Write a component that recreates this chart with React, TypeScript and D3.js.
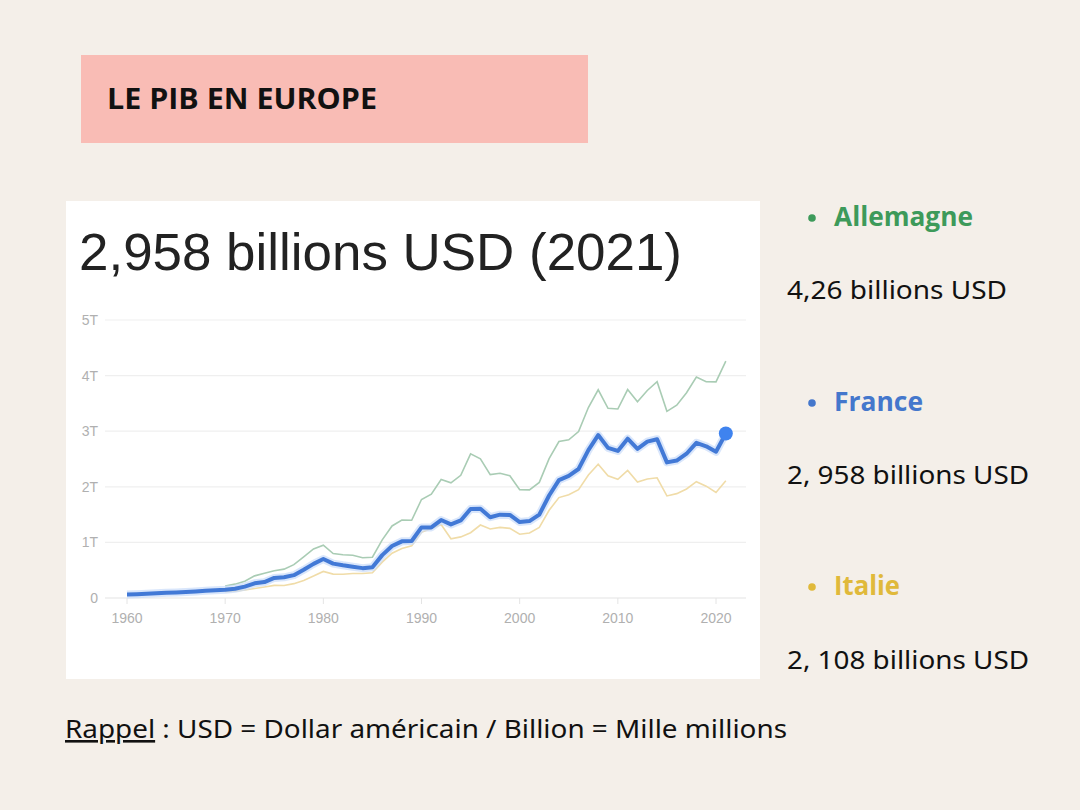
import React from "react";
import * as d3 from "d3";

const franceYears = d3.range(1960, 2022);
const franceValues = [
  0.062, 0.067, 0.075, 0.084, 0.094, 0.101, 0.110, 0.119, 0.130, 0.141,
  0.148, 0.166, 0.204, 0.264, 0.286, 0.361, 0.372, 0.411, 0.507, 0.614,
  0.701, 0.618, 0.588, 0.563, 0.537, 0.553, 0.771, 0.934, 1.019, 1.026,
  1.269, 1.270, 1.402, 1.323, 1.395, 1.601, 1.606, 1.453, 1.499, 1.494,
  1.366, 1.383, 1.500, 1.844, 2.120, 2.197, 2.320, 2.660, 2.930, 2.700,
  2.645, 2.865, 2.683, 2.812, 2.856, 2.439, 2.472, 2.595, 2.790, 2.729,
  2.630, 2.958,
];
const otherYears = d3.range(1970, 2022);
const germanyValues = [
  0.216, 0.249, 0.300, 0.398, 0.446, 0.490, 0.519, 0.600, 0.741, 0.882,
  0.950, 0.800, 0.777, 0.770, 0.725, 0.733, 1.046, 1.296, 1.402, 1.398,
  1.772, 1.869, 2.131, 2.072, 2.206, 2.592, 2.504, 2.219, 2.243, 2.200,
  1.948, 1.945, 2.079, 2.505, 2.815, 2.846, 2.993, 3.425, 3.745, 3.412,
  3.399, 3.749, 3.528, 3.733, 3.890, 3.357, 3.469, 3.691, 3.975, 3.889,
  3.887, 4.260,
];
const italyValues = [
  0.113, 0.124, 0.144, 0.170, 0.198, 0.227, 0.224, 0.258, 0.315, 0.394,
  0.478, 0.430, 0.428, 0.441, 0.440, 0.455, 0.645, 0.806, 0.891, 0.938,
  1.181, 1.248, 1.323, 1.065, 1.099, 1.174, 1.313, 1.241, 1.270, 1.253,
  1.146, 1.168, 1.270, 1.577, 1.806, 1.858, 1.949, 2.213, 2.408, 2.199,
  2.136, 2.294, 2.087, 2.141, 2.162, 1.836, 1.877, 1.961, 2.092, 2.011,
  1.897, 2.108,
];
const yTicks = [0, 1, 2, 3, 4, 5];
const yTickLabels = ["0", "1T", "2T", "3T", "4T", "5T"];
const xTicks = [1960, 1970, 1980, 1990, 2000, 2010, 2020];

const legendNames = ["Allemagne", "France", "Italie"];
const legendValues = ["4,26 billions USD", "2, 958 billions USD", "2, 108 billions USD"];
const legendColors = ["#3d9a5a", "#4477cc", "#e0b93a"];

export default function App() {
  const x = d3.scaleLinear().domain([1960, 2020]).range([127, 716]);
  const y = d3.scaleLinear().domain([0, 5]).range([598, 320]);

  const line = d3
    .line<[number, number]>()
    .x((d) => x(d[0]))
    .y((d) => y(d[1]));

  const fr = franceYears.map((yr, i) => [yr, franceValues[i]] as [number, number]);
  const de = otherYears.map((yr, i) => [yr, germanyValues[i]] as [number, number]);
  const it = otherYears.map((yr, i) => [yr, italyValues[i]] as [number, number]);
  const last = fr[fr.length - 1];

  const legendY = [226, 411, 595];
  const valueY = [299, 484, 669];
  const nameLen = [139, 89, 66];
  const valueLen = [220, 242, 242];

  return (
    <svg
      width={1080}
      height={810}
      style={{ position: "absolute", left: 0, top: 0, display: "block" }}
    >
      <rect x={0} y={0} width={1080} height={810} fill="#f4efe9" />
      <rect x={81} y={55} width={507} height={88} fill="#f9bcb5" />
      <text
        x={107}
        y={109}
        fontFamily="'Open Sans', sans-serif"
        fontWeight={700}
        fontSize={28}
        fill="#111"
        textLength={270}
        lengthAdjust="spacingAndGlyphs"
      >
        LE PIB EN EUROPE
      </text>

      <rect x={66} y={201} width={694} height={478} fill="#ffffff" />
      <text
        x={79}
        y={270}
        fontFamily="'Liberation Sans', Arial, sans-serif"
        fontSize={52}
        fill="#222"
        textLength={603}
        lengthAdjust="spacingAndGlyphs"
      >
        2,958 billions USD (2021)
      </text>

      {yTicks.map((t, i) => (
        <g key={t}>
          <line
            x1={105}
            x2={746}
            y1={y(t)}
            y2={y(t)}
            stroke={t === 0 ? "#e4e4e4" : "#efefef"}
            strokeWidth={1.2}
          />
          <text
            x={98}
            y={y(t) + 5}
            textAnchor="end"
            fontFamily="'Liberation Sans', Arial, sans-serif"
            fontSize={14}
            fill="#b0b0b0"
          >
            {yTickLabels[i]}
          </text>
        </g>
      ))}
      {xTicks.map((t) => (
        <g key={t}>
          <line x1={x(t)} x2={x(t)} y1={598} y2={604} stroke="#e4e4e4" />
          <text
            x={x(t)}
            y={623}
            textAnchor="middle"
            fontFamily="'Liberation Sans', Arial, sans-serif"
            fontSize={14}
            fill="#b0b0b0"
          >
            {t}
          </text>
        </g>
      ))}

      <path d={line(it) || ""} fill="none" stroke="#f0dca8" strokeWidth={1.6} />
      <path d={line(de) || ""} fill="none" stroke="#a9ccb4" strokeWidth={1.6} />
      <path
        d={line(fr) || ""}
        fill="none"
        stroke="#c9dcfa"
        strokeWidth={8}
        strokeLinejoin="round"
        opacity={0.7}
      />
      <path
        d={line(fr) || ""}
        fill="none"
        stroke="#4279d6"
        strokeWidth={4}
        strokeLinejoin="round"
      />
      <circle cx={x(last[0])} cy={y(last[1])} r={7} fill="#3f83ef" />

      {legendNames.map((n, i) => (
        <g key={n}>
          <circle cx={812} cy={legendY[i] - 8} r={3.8} fill={legendColors[i]} />
          <text
            x={834}
            y={legendY[i]}
            fontFamily="'Open Sans', sans-serif"
            fontWeight={700}
            fontSize={26}
            fill={legendColors[i]}
            textLength={nameLen[i]}
            lengthAdjust="spacingAndGlyphs"
          >
            {n}
          </text>
          <text
            x={787}
            y={valueY[i]}
            fontFamily="'Noto Sans', sans-serif"
            fontSize={25}
            fill="#111"
            textLength={valueLen[i]}
            lengthAdjust="spacingAndGlyphs"
          >
            {legendValues[i]}
          </text>
        </g>
      ))}

      <text
        x={65}
        y={738}
        fontFamily="'Noto Sans', sans-serif"
        fontSize={26}
        fill="#111"
        textLength={722}
        lengthAdjust="spacingAndGlyphs"
      >
        <tspan textDecoration="underline">Rappel</tspan>
        {" :  USD = Dollar américain / Billion = Mille millions"}
      </text>
    </svg>
  );
}
